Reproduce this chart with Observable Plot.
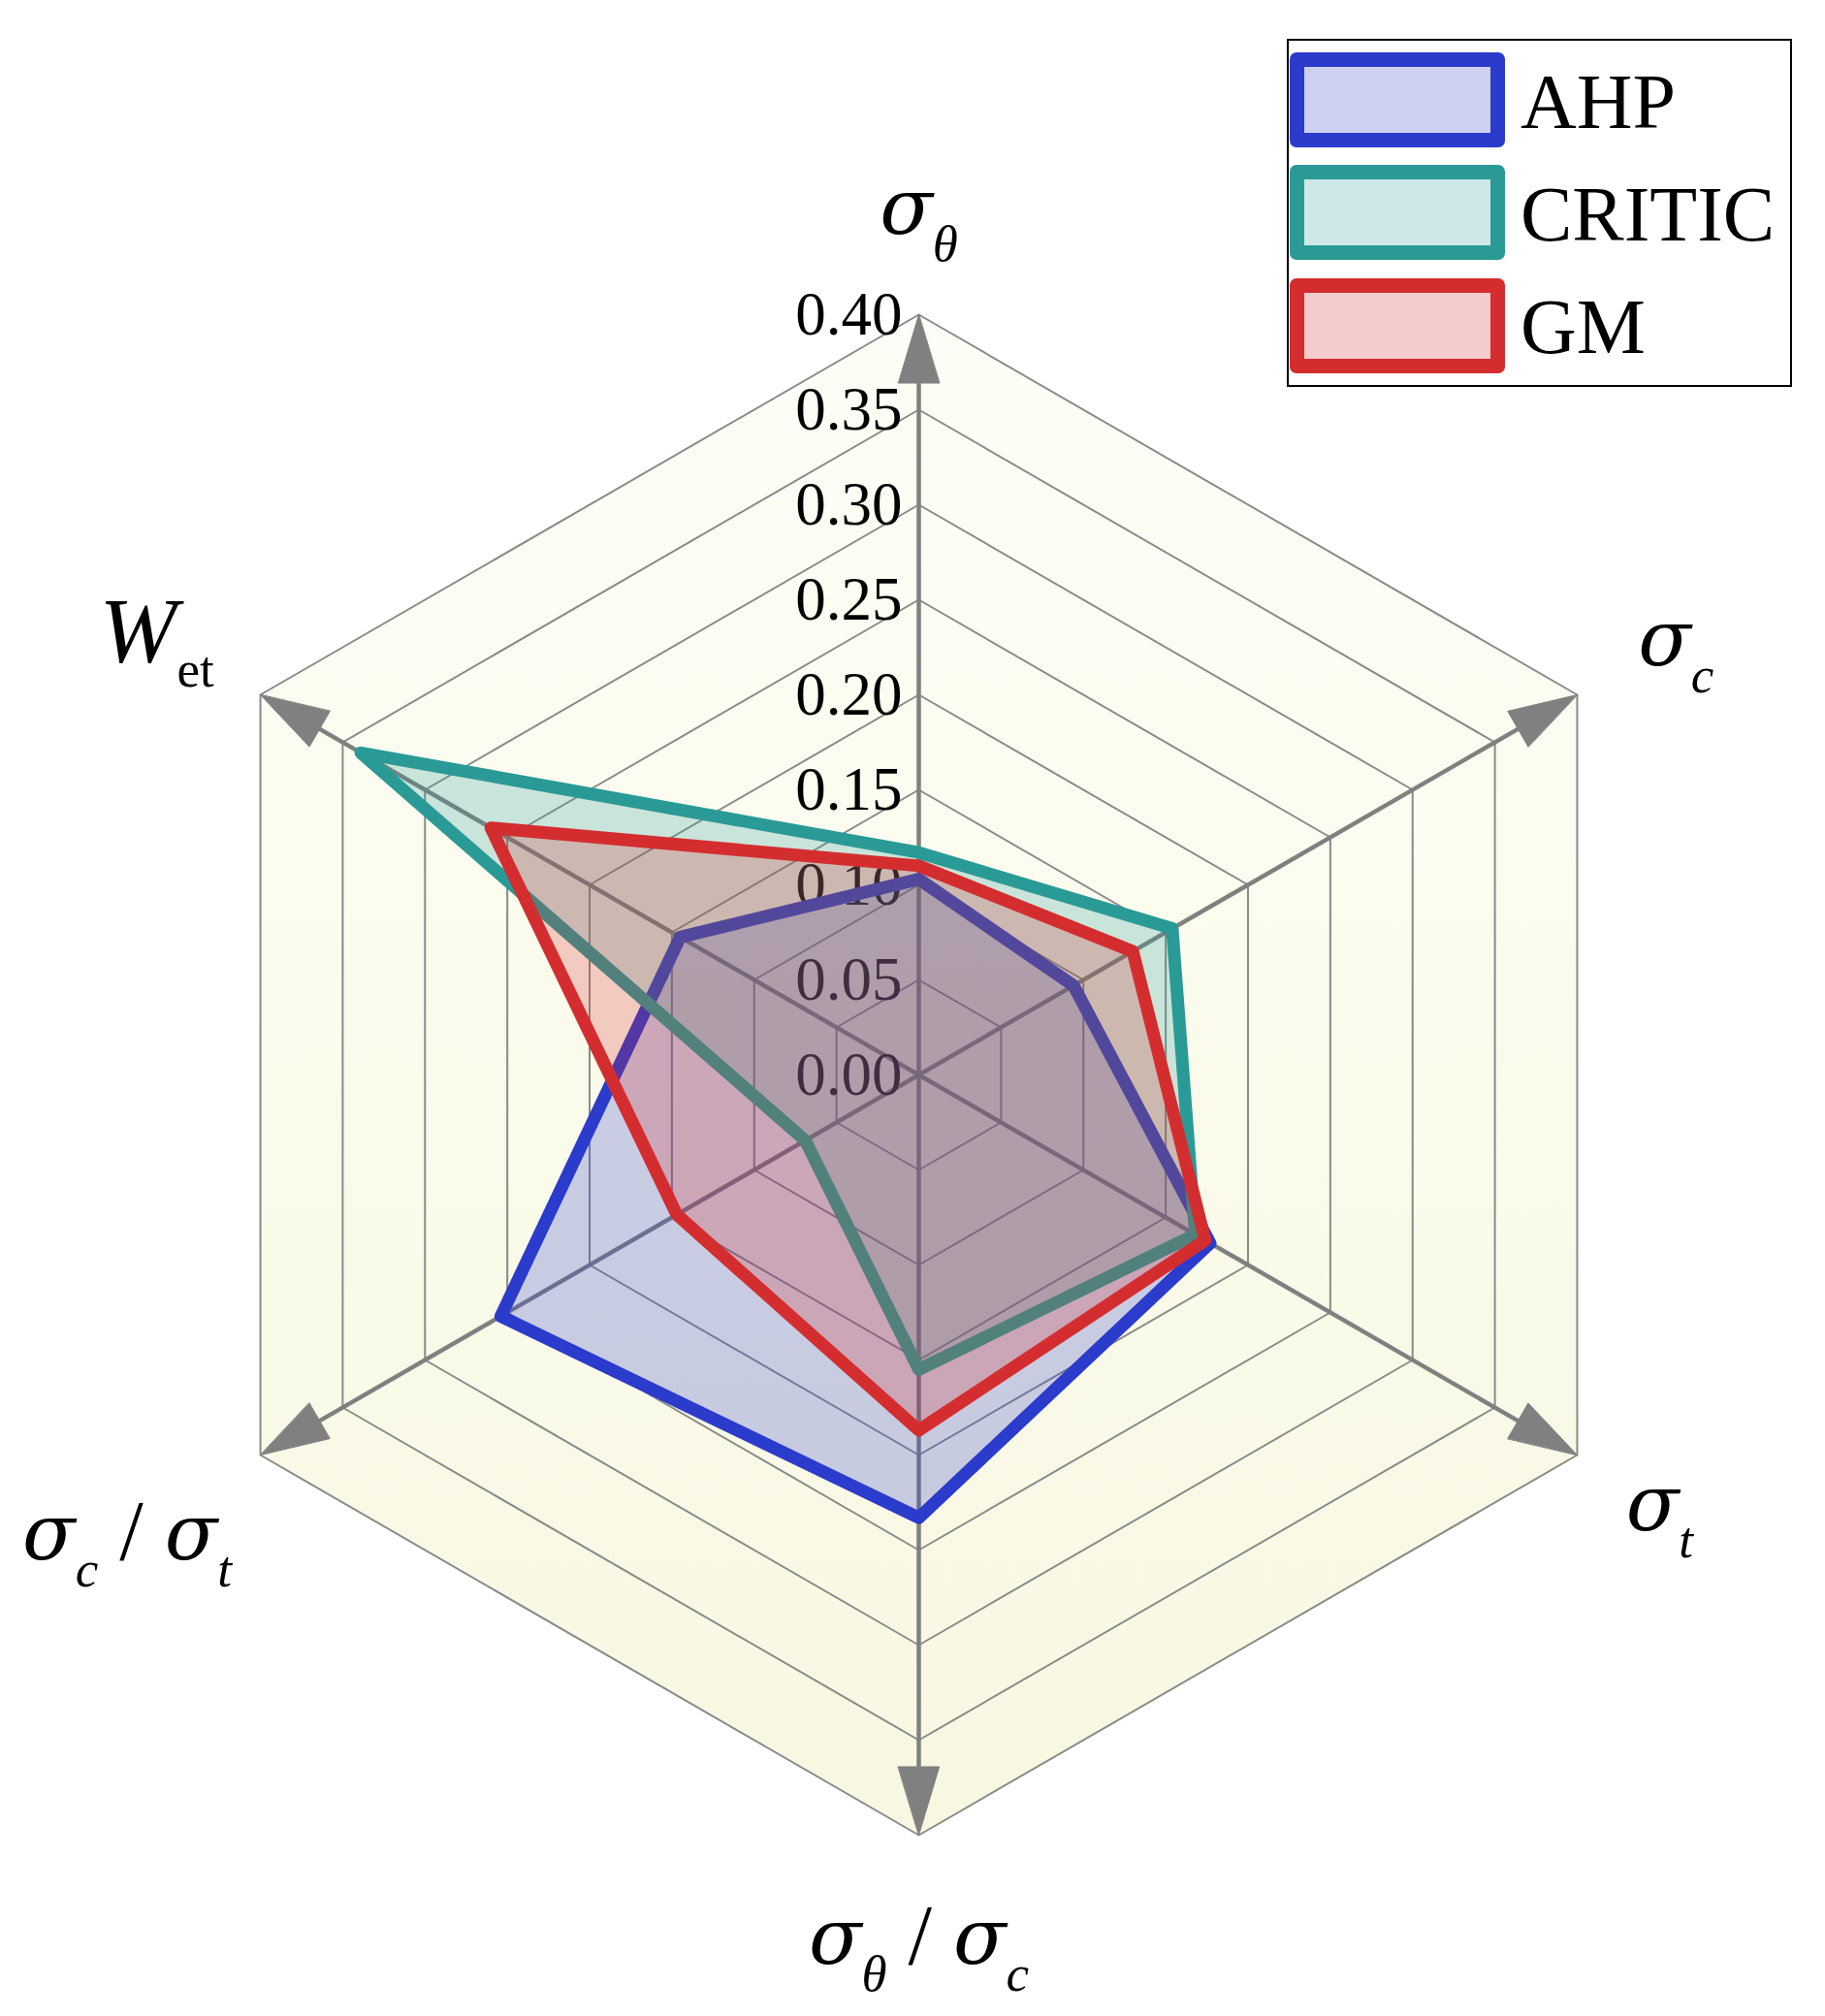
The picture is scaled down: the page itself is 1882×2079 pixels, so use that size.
<!DOCTYPE html>
<html>
<head>
<meta charset="utf-8">
<script src="https://cdn.jsdelivr.net/npm/d3@7"></script>
<script src="https://cdn.jsdelivr.net/npm/@observablehq/plot@0.6"></script>
<style>
html, body { margin: 0; padding: 0; background: #fff; }
#wrap { position: relative; width: 1882px; height: 2079px; overflow: hidden; }
#chart svg { display: block; }
.legend { position: absolute; left: 1327px; top: 40px; width: 521px; height: 359px; box-sizing: border-box; border: 2.5px solid #000; background: #fff; }
.sw { position: absolute; left: 1330px; width: 222px; height: 98px; box-sizing: border-box; border: 15px solid; border-radius: 7px; }
.lt { position: absolute; left: 1568px; font-family: "Liberation Serif", serif; font-size: 80px; line-height: 80px; color: #000; white-space: nowrap; }
</style>
</head>
<body>
<div id="wrap"><div id="chart"></div></div>
<script>
// ---------------- data ----------------
const axisNames = ["σθ", "σc", "σt", "σθ / σc", "σc / σt", "Wet"];
const labelPieces = [
  [["σ", "m"], ["θ", "s"]],
  [["σ", "m"], ["c", "s"]],
  [["σ", "m"], ["t", "s"]],
  [["σ", "m"], ["θ", "s"], [" / ", "r"], ["σ", "m"], ["c", "s"]],
  [["σ", "m"], ["c", "s"], [" / ", "r"], ["σ", "m"], ["t", "s"]],
  [["W", "w"], ["et", "u"]]
];
const labelRadius = [0.457, 0.46, 0.45, 0.453, 0.481, 0.463];
const tickValues = [0.00, 0.05, 0.10, 0.15, 0.20, 0.25, 0.30, 0.35, 0.40];
const seriesNames = ["AHP", "CRITIC", "GM"];
const AHP    = [0.103, 0.094, 0.177, 0.233, 0.254, 0.145];
const CRITIC = [0.117, 0.154, 0.168, 0.155, 0.069, 0.339];
const GM     = [0.110, 0.130, 0.174, 0.187, 0.147, 0.260];
const seriesColors = ["#2b3bcb", "#2a9a96", "#d42d30"];
const legendFills = ["#cdd0ef", "#cde8e6", "#f4cccc"];

// ---------------- layout ----------------
const W = 1882, H = 2079;
const cx = 947, cy = 1108, k = 1960; // pixels per unit
const rMax = tickValues[tickValues.length - 1];
const angle = i => (90 - 60 * i) * Math.PI / 180;
const ux = i => Math.cos(angle(i));
const uy = i => Math.sin(angle(i));

const seriesData = [AHP, CRITIC, GM].map((vals, s) =>
  vals.map((v, i) => ({series: seriesNames[s], axis: axisNames[i], value: v, x: v * ux(i), y: v * uy(i)}))
);
const outerHex = axisNames.map((a, i) => ({x: rMax * ux(i), y: rMax * uy(i)}));
const ringPts = tickValues.filter(t => t > 0).flatMap(t => axisNames.map((a, i) => ({r: t, x: t * ux(i), y: t * uy(i)})));
const arrowL = 0.036, arrowH = 0.0108;
const arrowPts = axisNames.flatMap((a, i) => {
  const bx = (rMax - arrowL) * ux(i), by = (rMax - arrowL) * uy(i);
  const nx = -uy(i), ny = ux(i);
  return [
    {axis: a, x: rMax * ux(i), y: rMax * uy(i)},
    {axis: a, x: bx + arrowH * nx, y: by + arrowH * ny},
    {axis: a, x: bx - arrowH * nx, y: by - arrowH * ny}
  ];
});
const spokes = axisNames.map((a, i) => ({axis: a, x2: (rMax - arrowL + 0.004) * ux(i), y2: (rMax - arrowL + 0.004) * uy(i)}));
const labels = axisNames.map((a, i) => ({text: a, x: labelRadius[i] * ux(i), y: labelRadius[i] * uy(i)}));

const defsMark = () => {
  const ns = "http://www.w3.org/2000/svg";
  const defs = document.createElementNS(ns, "defs");
  const g = document.createElementNS(ns, "linearGradient");
  g.setAttribute("id", "bgGrad");
  g.setAttribute("x1", "0"); g.setAttribute("y1", "0");
  g.setAttribute("x2", "0"); g.setAttribute("y2", "1");
  [["0", "#fdfdf7"], ["0.5", "#fbfbec"], ["1", "#f8f7e1"]].forEach(([o, c]) => {
    const s = document.createElementNS(ns, "stop");
    s.setAttribute("offset", o); s.setAttribute("stop-color", c);
    g.appendChild(s);
  });
  defs.appendChild(g);
  return defs;
};

const fontSerif = "'Liberation Serif', 'Times New Roman', serif";

const polyMarks = seriesData.map((pts, s) =>
  Plot.line(pts, {
    x: "x", y: "y", curve: "linear-closed",
    stroke: seriesColors[s], strokeWidth: 13, strokeLinejoin: "round",
    fill: seriesColors[s], fillOpacity: 0.24
  })
);

const chart = Plot.plot({
  width: W, height: H, margin: 0,
  x: {domain: [-cx / k, (W - cx) / k], axis: null},
  y: {domain: [-(H - cy) / k, cy / k], axis: null},
  style: {background: "transparent", overflow: "visible"},
  marks: [
    defsMark,
    Plot.line(outerHex, {x: "x", y: "y", curve: "linear-closed", fill: "#fbfbed", stroke: "none", className: "bghex"}),
    Plot.line(ringPts, {x: "x", y: "y", z: "r", curve: "linear-closed", stroke: "#8a8a8a", strokeWidth: 2}),
    Plot.link(spokes, {x1: () => 0, y1: () => 0, x2: "x2", y2: "y2", stroke: "#808080", strokeWidth: 4.5}),
    Plot.line(arrowPts, {x: "x", y: "y", z: "axis", curve: "linear-closed", fill: "#808080", stroke: "#808080", strokeWidth: 1}),
    Plot.text(tickValues, {x: () => 0, y: d => d, text: d => d.toFixed(2), textAnchor: "end", dx: -17, lineAnchor: "middle", fontSize: 63, fontFamily: fontSerif, fill: "#000"}),
    ...polyMarks,
    Plot.text(labels, {x: "x", y: "y", text: "text", textAnchor: "middle", lineAnchor: "middle", fontSize: 88, fontFamily: fontSerif, fill: "#000", className: "axlab"})
  ]
});
document.getElementById("chart").appendChild(chart);

// gradient background for the hexagon
chart.querySelectorAll(".bghex path").forEach(p => p.setAttribute("fill", "url(#bgGrad)"));

// rich text (subscripts) for axis labels
const ns = "http://www.w3.org/2000/svg";
chart.querySelectorAll(".axlab text").forEach((t, i) => {
  const pieces = labelPieces[i];
  if (!pieces) return;
  while (t.firstChild) t.removeChild(t.firstChild);
  let shifted = 0;
  pieces.forEach(([str, kind]) => {
    const ts = document.createElementNS(ns, "tspan");
    ts.textContent = str;
    const isSub = kind === "s" || kind === "u";
    if (isSub) {
      ts.setAttribute("font-size", "53");
      ts.setAttribute("font-style", kind === "s" ? "italic" : "normal");
      if (!shifted) { shifted = kind === "u" ? 25 : 28; ts.setAttribute("dy", String(shifted)); }
    } else {
      if (kind === "m") {
        ts.setAttribute("font-size", "80");
        ts.setAttribute("font-style", "italic");
        ts.setAttribute("font-family", "'DejaVu Serif', serif");
      } else if (kind === "w") {
        ts.setAttribute("font-size", "96");
        ts.setAttribute("font-style", "italic");
      } else {
        ts.setAttribute("font-size", "88");
        ts.setAttribute("font-style", "normal");
      }
      if (shifted) { ts.setAttribute("dy", String(-shifted)); shifted = 0; }
    }
    t.appendChild(ts);
  });
});

// legend (HTML, overlaid at top-right)
const wrap = document.getElementById("wrap");
const box = document.createElement("div");
box.className = "legend";
wrap.appendChild(box);
const swTops = [54, 170, 287];
const textTops = [65, 181, 297];
seriesNames.forEach((name, s) => {
  const sw = document.createElement("div");
  sw.className = "sw";
  sw.style.top = swTops[s] + "px";
  sw.style.borderColor = seriesColors[s];
  sw.style.background = legendFills[s];
  wrap.appendChild(sw);
  const lt = document.createElement("div");
  lt.className = "lt";
  lt.style.top = textTops[s] + "px";
  lt.textContent = name;
  wrap.appendChild(lt);
});
</script>
</body>
</html>
